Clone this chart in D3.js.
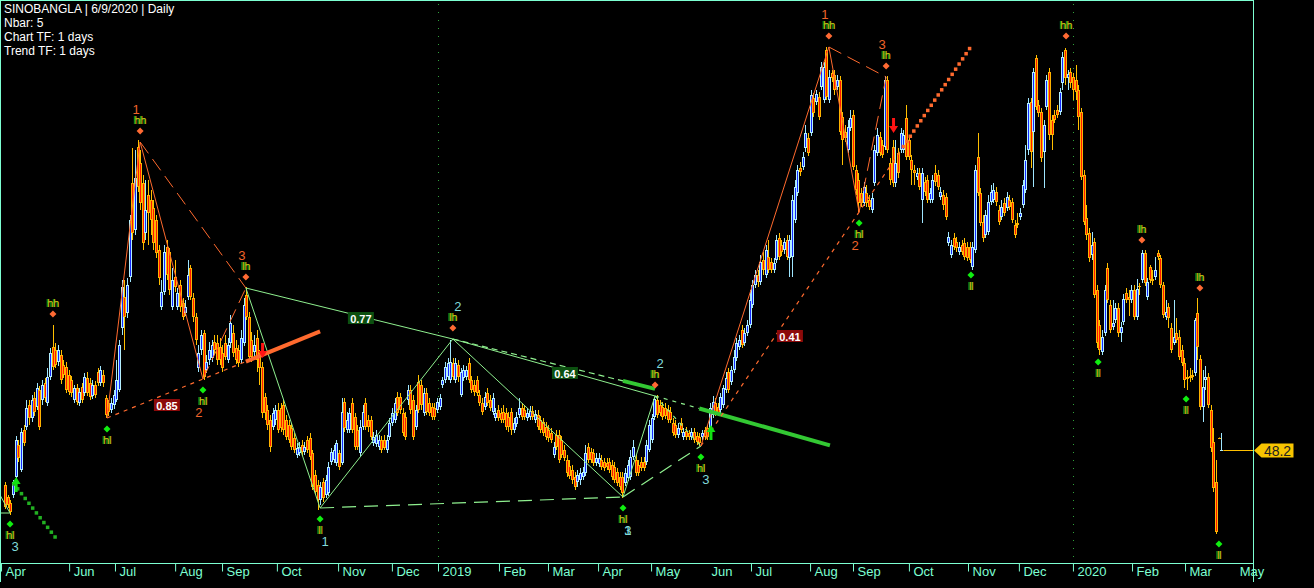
<!DOCTYPE html>
<html><head><meta charset="utf-8">
<script src="https://cdn.jsdelivr.net/npm/d3@7"></script>
<style>
html,body{margin:0;padding:0;background:#000;overflow:hidden;}
svg{display:block;}
</style></head><body>
<svg id="chart" width="1314" height="588"></svg>
<script>
// ---------- DATA ----------
const infoLines = ['SINOBANGLA | 6/9/2020 | Daily', 'Nbar: 5', 'Chart TF: 1 days', 'Trend TF: 1 days'];

// daily candles [open, high, low, close]
const candles = [
[44.7,45.0,42.3,42.5],[43.5,43.7,42.4,42.7],[42.9,43.2,41.7,42.0],[43.7,45.2,43.4,45.0],[45.5,49.6,45.2,49.2],[48.7,49.2,47.0,47.4],[46.2,50.4,46.0,50.0],[50.2,50.7,48.6,48.9],[50.5,53.2,50.2,52.4],[52.7,53.2,50.7,51.4],
[51.4,53.7,51.0,53.2],[53.4,54.0,51.6,52.0],[52.5,54.9,52.2,54.4],[54.2,54.6,50.2,50.5],[53.2,55.2,52.7,54.7],[54.9,55.4,53.0,53.4],[52.9,56.4,52.6,55.5],[55.5,58.4,55.2,57.9],[58.5,60.7,56.2,56.5],[58.2,58.9,56.4,56.7],
[57.0,58.7,56.6,58.2],[57.7,58.2,54.8,55.2],[56.7,57.2,55.4,55.7],[56.5,57.0,53.9,54.2],[55.7,56.2,53.7,54.0],[55.2,55.6,53.5,53.9],[53.2,54.7,52.9,54.4],[54.4,54.8,52.7,53.0],[52.9,54.4,52.6,54.0],[54.5,54.9,52.9,53.2],
[53.9,55.9,53.6,55.5],[55.4,56.0,53.6,53.9],[54.9,55.4,53.2,53.5],[53.6,55.2,53.3,54.7],[54.7,55.1,53.4,53.7],[56.0,56.4,54.6,54.9],[54.9,56.6,54.6,56.2],[55.7,56.2,54.5,54.9],[53.4,53.7,51.4,51.7],[52.9,53.2,51.6,52.0],
[52.2,53.4,51.9,52.9],[52.7,54.2,52.3,53.7],[53.2,57.2,53.0,55.2],[54.2,59.2,54.0,58.7],[60.4,65.2,59.7,64.5],[63.5,65.2,58.2,61.5],[61.9,65.4,61.4,64.7],[65.5,71.7,65.0,71.2],[74.9,78.4,69.2,69.9],[70.2,78.2,69.7,75.4],
[78.5,79.2,74.0,74.5],[76.9,78.2,72.2,72.9],[74.9,75.7,68.2,68.9],[69.9,75.2,69.2,72.2],[73.7,75.2,68.7,71.9],[73.2,74.2,69.7,71.2],[72.4,73.2,68.2,68.9],[71.2,71.7,67.4,67.9],[68.2,68.7,64.7,65.4],[62.5,65.2,62.2,64.0],
[64.0,68.7,63.7,68.0],[68.5,69.2,65.2,65.7],[68.0,68.4,63.7,64.2],[62.5,66.4,62.2,65.2],[65.5,67.2,64.0,64.5],[62.5,64.4,62.2,63.9],[64.7,65.2,62.0,62.5],[62.9,63.4,61.2,61.5],[61.9,63.2,61.6,62.5],[63.5,67.2,63.2,65.7],
[66.4,66.7,63.2,63.5],[63.4,63.9,61.0,61.5],[61.5,61.9,58.7,59.2],[56.4,58.7,56.0,57.9],[58.2,60.2,57.7,59.7],[59.9,60.2,55.2,55.5],[56.2,57.7,55.9,57.0],[57.2,59.0,56.7,58.2],[57.4,59.2,57.0,58.7],[59.0,59.7,57.7,58.2],
[58.9,59.7,56.7,57.2],[58.5,59.4,56.7,57.2],[57.9,58.7,56.0,56.4],[58.9,59.7,57.2,57.5],[57.2,59.4,56.9,58.7],[58.9,61.7,58.4,60.9],[59.9,60.7,57.5,57.9],[58.4,59.2,56.8,57.2],[58.2,58.7,56.5,56.9],[57.2,60.2,56.9,59.4],
[58.9,63.4,58.6,62.7],[63.7,64.5,61.2,61.5],[61.5,62.0,57.0,57.5],[59.2,60.0,57.0,57.5],[58.0,59.7,57.4,58.7],[59.4,60.2,56.0,57.2],[57.7,58.2,54.7,56.4],[56.5,57.0,51.4,51.9],[53.5,53.9,51.2,51.9],[52.2,52.7,50.2,50.7],
[51.2,51.7,48.0,48.5],[50.5,52.4,50.2,51.9],[51.2,52.7,50.7,52.2],[52.2,52.9,49.9,50.2],[52.4,52.9,50.0,50.4],[52.7,53.2,49.7,50.2],[51.2,51.7,49.2,49.5],[50.7,51.2,48.9,49.2],[50.4,50.9,48.2,48.5],[49.4,49.9,47.9,48.2],
[47.7,48.9,47.4,48.4],[47.9,49.0,47.6,48.5],[48.7,49.2,47.6,48.0],[48.0,49.0,47.7,48.5],[49.2,49.6,47.9,48.2],[49.4,49.9,47.2,47.5],[47.9,48.2,44.2,44.5],[45.7,46.2,43.7,44.0],[44.7,45.2,42.2,43.2],[43.2,45.0,42.7,44.5],
[45.0,45.4,43.0,43.4],[43.7,45.7,43.4,45.2],[43.9,47.0,43.6,46.5],[47.0,48.4,46.7,48.0],[47.2,48.7,46.9,48.2],[46.9,49.2,46.6,48.9],[47.9,48.2,46.2,46.5],[46.9,53.4,46.7,52.0],[53.0,53.4,50.0,50.4],[50.2,52.0,49.9,51.2],
[50.2,52.4,49.9,51.9],[52.9,53.4,49.9,50.2],[51.5,51.9,48.2,48.5],[50.2,50.7,48.2,48.5],[47.9,51.2,47.6,50.5],[50.5,52.7,50.2,52.0],[52.9,53.4,50.2,50.5],[51.2,51.7,50.0,50.5],[51.2,51.6,49.2,49.5],[48.9,50.0,48.6,49.5],
[48.8,50.2,48.5,49.7],[48.5,49.7,48.2,49.2],[49.2,49.6,47.9,48.2],[49.2,49.7,48.2,48.4],[48.2,49.7,47.9,49.2],[49.5,51.4,49.2,50.9],[50.9,52.4,50.6,51.9],[51.2,53.4,50.9,52.9],[53.5,54.0,51.6,51.9],[53.5,53.9,51.8,52.2],
[51.9,52.4,49.6,49.9],[51.5,52.0,49.2,49.5],[53.2,54.7,52.7,54.2],[54.2,54.7,51.8,52.2],[53.2,53.7,49.2,49.5],[50.5,52.7,50.2,52.2],[55.0,55.7,51.9,52.2],[54.7,55.2,52.2,52.7],[51.9,54.4,51.6,53.9],[53.9,54.4,51.7,52.0],
[52.9,53.4,51.6,51.9],[52.5,52.9,51.2,51.5],[52.4,52.9,51.2,51.5],[52.2,53.4,51.9,53.0],[52.5,53.8,52.2,53.4],[54.7,55.5,54.4,55.2],[55.2,57.0,54.9,56.5],[55.5,57.4,55.2,56.9],[55.2,59.2,54.9,57.0],[56.9,57.4,55.2,55.5],
[55.2,57.4,54.9,56.9],[56.7,57.2,55.0,55.5],[53.7,56.4,53.5,56.0],[55.4,56.7,55.1,56.2],[55.5,56.6,55.2,56.2],[56.9,57.4,54.9,55.2],[55.2,55.6,53.9,54.2],[54.7,55.2,53.6,54.0],[55.2,55.6,53.6,53.9],[53.7,54.2,52.6,52.9],
[52.9,53.4,51.7,52.0],[52.5,54.0,52.2,53.5],[53.9,54.4,52.6,52.9],[53.2,53.7,52.1,52.4],[52.0,53.9,51.7,53.4],[51.4,52.4,51.1,51.9],[52.2,52.7,51.1,51.4],[51.9,52.4,50.9,51.2],[52.0,52.7,50.9,51.2],[51.9,52.4,50.2,50.5],
[51.5,52.0,50.0,50.5],[52.0,52.4,49.7,50.2],[50.2,51.4,49.9,50.9],[50.8,52.0,50.5,51.5],[51.7,53.4,51.4,52.4],[52.4,52.9,51.2,51.5],[52.2,52.7,51.2,51.5],[51.4,52.4,51.1,51.9],[51.5,52.6,51.2,52.1],[52.1,52.6,51.2,51.5],
[51.2,52.2,50.9,51.8],[51.7,52.2,50.2,50.5],[51.2,51.6,49.9,50.2],[51.0,51.4,49.6,49.9],[50.5,51.0,49.2,49.5],[50.2,50.7,49.0,49.4],[49.9,50.4,48.9,49.2],[47.7,49.0,47.4,48.5],[49.7,50.2,48.2,48.5],[49.7,50.2,46.9,47.2],
[49.2,49.6,47.4,47.7],[48.2,48.7,47.1,47.4],[47.2,47.7,45.5,45.9],[46.6,47.2,45.3,45.6],[46.2,46.7,44.8,45.2],[45.5,46.0,44.2,44.5],[45.0,46.2,44.5,45.7],[45.2,46.4,44.7,45.9],[45.5,46.5,45.2,46.0],[45.9,48.7,45.6,47.9],
[48.5,48.9,46.9,47.2],[48.0,48.4,46.9,47.2],[47.9,48.3,46.6,46.9],[46.9,47.9,46.6,47.4],[46.8,47.9,46.5,47.4],[47.2,47.7,46.2,46.5],[47.0,47.4,46.1,46.4],[46.9,47.4,46.2,46.5],[47.0,47.4,45.9,46.2],[46.7,47.2,45.2,45.5],
[46.5,47.0,44.9,45.2],[46.0,46.4,44.6,44.9],[45.5,46.0,44.2,44.5],[45.5,46.0,43.4,43.9],[44.9,46.4,44.6,45.9],[45.4,47.2,45.1,46.7],[45.5,48.2,45.2,47.5],[47.5,49.2,47.2,48.5],[47.2,47.7,45.6,45.9],[46.7,47.2,45.6,45.9],
[47.0,47.5,46.1,46.4],[47.0,47.5,46.1,46.4],[47.0,49.2,46.7,48.7],[48.2,51.2,48.0,50.7],[49.2,51.8,48.9,51.4],[51.5,53.5,51.2,53.3],[53.2,53.7,51.4,51.7],[52.7,53.2,51.6,51.9],[52.5,53.0,51.2,51.5],[52.4,52.9,51.3,51.6],
[52.2,52.7,50.9,51.2],[52.0,52.5,50.9,51.2],[50.9,51.4,49.6,49.9],[50.7,51.2,49.4,49.7],[49.7,50.9,49.4,50.4],[50.9,51.4,49.9,50.2],[49.5,50.4,49.2,50.0],[50.1,50.5,49.2,49.5],[49.9,50.2,49.2,49.5],[49.5,50.4,49.2,50.0],
[50.0,50.4,48.9,49.2],[49.6,50.0,48.7,49.0],[49.5,49.9,48.6,48.9],[49.5,50.2,49.2,49.9],[50.2,50.5,49.2,49.5],[50.4,50.7,49.2,49.5],[50.4,52.9,50.0,52.4],[51.7,53.6,51.4,53.0],[52.9,53.4,51.6,51.9],[52.5,52.9,51.6,51.9],
[52.2,53.9,51.9,53.5],[52.7,54.7,52.4,54.4],[54.2,56.0,53.9,55.4],[56.0,56.4,53.9,54.2],[55.0,56.6,54.7,56.2],[56.2,58.2,55.9,57.5],[57.4,59.4,57.1,58.9],[58.5,59.7,58.2,59.2],[60.2,60.7,58.4,58.7],[58.9,60.4,58.6,59.9],
[59.9,61.2,59.6,60.7],[60.7,64.2,60.4,63.2],[62.7,65.2,62.4,64.7],[64.7,66.2,64.4,65.7],[65.7,66.2,64.5,65.0],[65.0,67.7,64.7,67.0],[67.2,68.0,65.7,66.2],[65.7,68.7,65.4,68.2],[67.5,69.2,65.9,66.2],[67.0,67.4,65.9,66.2],
[66.2,67.4,65.9,66.9],[67.2,69.7,66.9,69.2],[69.4,69.9,67.2,67.5],[68.7,69.2,67.6,68.0],[68.2,69.4,67.8,69.0],[69.2,69.7,67.2,67.5],[67.4,69.7,65.5,69.2],[67.5,73.7,65.5,73.2],[71.2,75.2,70.9,74.5],[73.9,76.7,73.6,76.2],
[76.4,77.0,75.6,76.0],[76.5,78.0,76.2,77.5],[78.4,80.7,78.0,79.9],[79.4,79.9,77.6,77.9],[79.9,84.2,79.6,83.7],[83.4,83.9,81.5,81.9],[83.0,84.2,82.7,83.8],[83.5,84.0,81.2,81.5],[84.5,87.0,84.2,86.5],[83.2,87.0,82.9,86.5],
[88.2,88.5,83.2,83.5],[83.2,86.2,82.9,85.5],[85.9,86.2,85.0,85.4],[85.7,86.2,83.7,84.2],[84.5,85.7,84.2,85.2],[85.2,85.6,79.7,80.0],[81.5,82.0,76.7,79.2],[80.0,80.7,79.0,79.4],[78.2,81.2,77.9,80.5],[80.4,82.2,80.1,81.4],
[81.7,82.2,76.2,76.5],[76.2,76.7,73.7,74.2],[75.2,75.9,72.0,72.9],[73.9,74.4,72.5,72.9],[72.9,75.0,72.6,74.5],[73.9,74.7,72.5,72.9],[73.2,73.7,72.2,72.5],[72.2,73.9,71.9,73.4],[74.9,78.7,74.6,78.2],[77.9,80.4,77.6,79.7],
[79.5,80.0,77.6,77.9],[78.7,79.2,77.4,77.7],[78.5,85.6,78.2,85.2],[85.2,85.6,77.9,78.2],[76.9,77.4,74.7,75.2],[78.5,79.2,74.5,74.9],[74.9,79.2,74.5,76.9],[77.9,78.4,75.4,75.9],[78.2,80.4,77.9,79.9],[78.2,80.2,77.9,79.7],
[81.4,82.7,77.2,77.5],[79.2,79.7,77.2,77.5],[77.2,77.7,74.7,76.2],[76.2,76.7,74.7,75.9],[75.5,76.4,75.2,75.9],[75.9,76.4,74.2,74.5],[73.2,76.4,70.9,75.9],[75.0,75.5,73.6,74.0],[75.2,75.7,72.9,73.2],[73.2,74.4,72.9,73.9],
[73.2,75.7,72.9,75.2],[75.9,76.7,74.6,75.0],[75.7,76.2,74.2,74.5],[73.5,74.5,73.2,74.0],[73.7,74.2,72.2,72.7],[73.5,73.9,71.2,71.5],[68.9,70.0,68.6,69.5],[67.7,69.2,67.4,68.7],[69.4,69.9,68.2,68.5],[69.0,69.5,68.0,68.4],
[68.0,69.0,67.7,68.5],[68.7,69.2,67.7,68.0],[68.9,69.4,67.2,67.5],[68.5,69.0,67.1,67.4],[68.5,69.0,66.9,67.2],[66.5,69.0,66.2,68.5],[68.2,76.7,67.9,76.2],[77.5,79.9,73.6,73.9],[73.9,74.4,70.6,70.9],[71.0,71.7,69.0,69.4],
[69.7,72.2,69.4,71.7],[70.0,73.7,69.7,73.0],[73.0,74.7,72.7,74.0],[73.2,74.9,72.9,74.2],[74.0,74.5,72.6,73.0],[72.2,72.7,70.7,71.0],[71.5,73.2,71.2,72.5],[72.9,73.4,71.6,71.9],[72.4,74.0,72.1,73.5],[73.2,73.7,72.2,72.5],
[73.0,73.4,70.9,71.2],[70.7,71.2,69.4,69.7],[70.9,71.9,70.4,70.7],[71.5,72.4,71.2,71.9],[72.7,75.2,72.4,74.7],[74.2,78.7,73.9,77.2],[78.2,83.4,77.7,82.9],[83.0,83.4,76.4,78.0],[80.0,86.4,74.5,86.0],[87.4,87.7,82.2,82.5],
[82.7,83.2,81.5,81.9],[82.0,82.4,77.0,77.4],[78.0,81.2,74.4,80.7],[82.5,85.7,82.2,85.2],[86.0,86.4,79.2,79.7],[81.2,81.7,78.2,79.7],[81.7,82.2,80.9,81.2],[82.2,82.7,81.4,81.7],[82.0,84.4,81.7,84.0],[84.9,88.0,84.2,87.5],
[88.2,88.4,84.7,85.4],[85.4,86.2,84.2,85.8],[86.0,86.4,84.4,84.9],[85.5,85.9,83.2,84.2],[85.2,86.7,83.2,84.0],[84.2,84.7,80.2,81.5],[82.0,82.4,75.2,75.5],[75.7,76.2,70.7,71.0],[71.4,72.7,69.2,69.7],[69.9,70.4,67.0,67.4],
[67.7,70.0,67.2,68.7],[69.0,69.4,63.4,63.7],[64.2,64.7,58.4,58.9],[60.7,61.2,57.7,58.2],[58.0,60.2,57.7,59.5],[59.9,64.7,59.6,64.2],[66.4,66.9,62.9,63.2],[62.7,63.2,59.9,60.2],[60.5,63.2,60.2,60.9],[61.2,62.9,60.9,62.4],
[62.4,62.9,59.5,59.9],[59.9,61.0,59.0,60.5],[61.0,63.8,60.7,63.3],[63.9,64.4,62.9,63.2],[63.5,64.2,61.6,63.2],[63.2,64.7,62.9,64.2],[64.2,64.7,61.2,61.5],[61.5,65.3,61.2,64.3],[64.6,64.9,63.7,64.5],[65.2,68.2,64.9,67.9],
[67.9,68.2,64.6,64.9],[63.5,65.4,63.2,65.0],[66.5,66.7,64.9,65.2],[65.3,66.2,64.7,65.1],[65.5,67.5,65.2,66.2],[67.9,68.2,67.2,67.5],[67.4,67.7,64.4,64.7],[64.7,65.0,61.4,61.7],[61.5,63.2,61.2,62.0],[62.5,62.9,60.4,61.4],
[60.4,60.9,57.9,58.2],[58.9,63.2,58.7,59.5],[59.9,61.4,58.9,59.2],[59.5,60.2,57.2,57.5],[58.2,58.7,56.6,56.9],[56.9,57.4,54.4,55.2],[55.5,56.2,54.2,55.3],[55.6,56.4,55.0,55.4],[55.7,56.2,55.2,55.5],[55.9,61.4,55.6,61.2],
[61.9,63.4,57.2,58.5],[57.3,57.7,52.2,52.5],[52.5,56.2,51.0,54.5],[55.2,56.6,54.2,55.5],[55.5,55.9,52.4,52.7],[52.2,52.7,48.0,48.4],[49.0,50.4,44.0,44.4],[45.0,47.2,39.8,40.0],[49.45,49.45,49.35,49.35],[48.2,49.9,48.2,48.2]
];
const lastPrice = 48.2;

// x-axis: month labels at bar positions
const tickLabels = ['Apr','Jun','Jul','Aug','Sep','Oct','Nov','Dec','2019','Feb','Mar','Apr','May','Jun','Jul','Aug','Sep','Oct','Nov','Dec','2020','Feb','Mar','May'];
const tickBars   = [-1.5,24.2,41.5,64.2,81.9,102.6,125.7,146,163.4,186.4,204.9,223.8,243.8,264.9,281.5,303.8,320,341.1,363.4,382.6,403,425.3,445.3,464.2];
const hiddenTicks = [13, 23];

// swing pivots
const pivotIds    = ['a0','hh0','hl1','hh1','hl2','lh3','ll1','lh','hl3','lh2','hl4','hh2','hl5','lh5','ll5','hh6','ll6','lh6','ll7','lh7','ll8'];
const pivotBars   = [1.9,18.1,38.5,51,74.7,90.9,118.9,169,233.2,245.3,262.6,310.9,322.3,332.5,364.5,400.4,412.5,429,445.7,450.9,458.1];
const pivotPrices = [41.9,60.7,51.4,79.0,55.3,64.4,42.4,59.3,43.5,53.6,48.6,88.5,72.0,85.5,66.8,88.5,58.1,68.1,54.4,63.3,39.9];
const pivotTags   = ['hl','hh','hl','hh','hl','lh','ll','lh','hl','lh','hl','hh','hl','lh','ll','hh','ll','lh','ll','lh','ll'];
const pivotNums   = ['3','','','1','2','3','1','2','3','2','3','1','2','3','','','','','','',''];
const pivotWave   = ['g','','','o','o','o','g','g','g','g','g','o','o','o','','','','','','',''];
const extraNums   = [['hl3','1']];

// zigzag links between pivots [from, to, kind]
const pivotLinks = [
  ['hl1','hh1','oSolid'],['hh1','hl2','oSolid'],['hl2','lh3','oDash'],['hh1','lh3','oDash'],
  ['lh3','ll1','gSolid'],['ll1','lh','gSolid'],['lh','hl3','gSolid'],['hl3','lh2','gSolid'],['lh2','hl4','gDot'],
  ['ll1','hl3','gLong'],['hl3','hl4','gLong'],
  ['hl4','hh2','oSolid'],['hh2','hl5','oSolid'],['hl5','lh5','oDash'],['hh2','lh5','oDash']
];
// trend lines through two pivots, drawn between two bar positions [a, b, fromBar, toBar, kind]
const trendRuns = [
  ['hl1','hl2',38.5,90.9,'oDot'],['hl1','hl2',90.9,118.9,'oThick'],
  ['lh3','lh',90.9,169,'gSolid'],['lh3','lh',169,233.2,'gDash'],['lh3','lh',233.2,245.3,'gThick'],
  ['lh','lh2',169,245.3,'gSolid'],['lh','lh2',245.3,262,'gDot'],['lh','lh2',262,311.3,'gThick'],
  ['hl4','hl5',262.6,339,'oDot'],['hl4','hl5',339,364,'oSquares']
];
const leadIn = [[-1.9,43.7],[1.9,41.9],[-1.9,41.9]];
const projGreen = [[3.4,44.8],[18.9,39.5]];

// ratio labels
const ratioText   = ['0.85','0.77','0.64','0.41'];
const ratioBars   = [61.1,134.3,211.3,296.2];
const ratioPrices = [52.7,61.4,55.9,59.6];
const ratioKind   = ['o','g','g','o'];

// signal arrows (tip position)
const arrowBars   = [4.2,266.4,97.2,335.3];
const arrowPrices = [45.5,50.7,57.4,79.9];
const arrowDirs   = ['up','up','down','down'];

// ---------- DRAW ----------
const AQUA = '#7dffd2', ORANGE = '#ff6a2e', LGREEN = '#8ff08f', GREEN = '#33c833';
const svg = d3.select('#chart');
const plotRight = 1253.5, axisY = 563.5;
svg.append('rect').attr('width',1314).attr('height',588).attr('fill','#000');

const x = d3.scaleLinear().domain([0, candles.length - 1]).range([5, 5 + (candles.length - 1) * 2.65]);
const y = d3.scaleLinear().domain([38.2, 93.2]).range([550, 0]);

svg.append('clipPath').attr('id','plot').append('rect').attr('x',1).attr('y',1).attr('width',plotRight-1).attr('height',axisY-1);
const plot = svg.append('g').attr('clip-path','url(#plot)');

// year separators
tickLabels.forEach((t,k)=>{
  if (/^\d{4}$/.test(t)) {
    const xx = Math.round(x(tickBars[k])) + 0.5;
    plot.append('line').attr('x1',xx).attr('x2',xx).attr('y1',4).attr('y2',axisY)
      .attr('stroke','#2fa33a').attr('stroke-dasharray','1,7');
  }
});

// candles
const cg = plot.append('g');
const cs = cg.selectAll('g').data(candles).join('g');
cs.each(function(d,i){
  const [o,h,l,c] = d;
  const up = c >= o;
  const g = d3.select(this);
  const cx = Math.round(x(i));
  g.append('line').attr('x1',cx+0.5).attr('x2',cx+0.5)
    .attr('y1',y(Math.max(h,o,c))).attr('y2',y(Math.min(l,o,c)))
    .attr('stroke', up ? '#9fe6ff' : '#ffbf00').attr('stroke-width',1);
  const top = Math.round(y(Math.max(o,c))), bot = Math.round(y(Math.min(o,c)));
  const bh = Math.max(1, bot - top);
  g.append('rect').attr('x',cx-1).attr('y',top).attr('width',3).attr('height',bh)
    .attr('fill', up ? '#b4f0ff' : '#ffb300');
  if (bh > 2) g.append('rect').attr('x',cx).attr('y',top+1).attr('width',1).attr('height',bh-2)
    .attr('fill', up ? '#1428ff' : '#ff1800');
});

// lines
const P = {};
pivotIds.forEach((id,k)=>{ P[id] = {i: pivotBars[k], p: pivotPrices[k]}; });
const styles = {
  oSolid:{c:ORANGE,w:1,d:null}, oDash:{c:ORANGE,w:1,d:'14,7'}, oDot:{c:ORANGE,w:1.2,d:'4,5'}, oThick:{c:ORANGE,w:4,d:null},
  gSolid:{c:LGREEN,w:1,d:null}, gDash:{c:LGREEN,w:1.2,d:'6,4'}, gDot:{c:LGREEN,w:1.2,d:'4,5'}, gLong:{c:LGREEN,w:1.2,d:'14,8'}, gThick:{c:GREEN,w:4,d:null}
};
const lg = plot.append('g');
function seg(i0,p0,i1,p1,kind){
  const s = styles[kind];
  lg.append('line').attr('x1',x(i0)).attr('y1',y(p0)).attr('x2',x(i1)).attr('y2',y(p1))
    .attr('stroke',s.c).attr('stroke-width',s.w).attr('stroke-dasharray',s.d);
}
function squares(i0,p0,i1,p1,color){
  const x0=x(i0), y0=y(p0), x1=x(i1), y1=y(p1);
  const L = Math.hypot(x1-x0,y1-y0), n = Math.floor(L/6);
  d3.range(n+1).forEach(k=>{
    const t = k/n;
    lg.append('rect').attr('x',x0+(x1-x0)*t-1.75).attr('y',y0+(y1-y0)*t-1.75)
      .attr('width',3.5).attr('height',3.5).attr('fill',color);
  });
}
pivotLinks.forEach(([a,b,kind])=> seg(P[a].i,P[a].p,P[b].i,P[b].p,kind));
trendRuns.forEach(([a,b,f,t,kind])=>{
  const A=P[a], B=P[b];
  const at = i => A.p + (B.p-A.p)*(i-A.i)/(B.i-A.i);
  if (kind === 'oSquares') squares(f,at(f),t,at(t),ORANGE);
  else seg(f,at(f),t,at(t),kind);
});
lg.append('path').attr('d', d3.line().x(d=>x(d[0])).y(d=>y(d[1]))(leadIn)).attr('fill','none').attr('stroke',LGREEN);
squares(projGreen[0][0],projGreen[0][1],projGreen[1][0],projGreen[1][1],'#22b022');

// ratio labels
ratioText.forEach((t,k)=>{
  const cx = x(ratioBars[k]), cy = y(ratioPrices[k]);
  plot.append('rect').attr('x',cx-13).attr('y',cy-6).attr('width',26).attr('height',12)
    .attr('fill', ratioKind[k]==='o' ? '#8c0a0a' : '#0c5010');
  plot.append('text').attr('x',cx).attr('y',cy+0.5).attr('text-anchor','middle').attr('dominant-baseline','central')
    .attr('fill','#fff').attr('font-family','Liberation Sans, Arial, sans-serif').attr('font-weight','bold').attr('font-size',11).text(t);
});

// arrows
arrowDirs.forEach((dir,k)=>{
  const cx = x(arrowBars[k]), cy = y(arrowPrices[k]);
  const s = dir==='up' ? 1 : -1;
  const d = `M0,0L4.5,${7*s}L1.5,${7*s}L1.5,${15*s}L-1.5,${15*s}L-1.5,${7*s}L-4.5,${7*s}Z`;
  plot.append('path').attr('d',d).attr('transform',`translate(${cx},${cy})`).attr('fill', dir==='up' ? '#12e012' : '#ff1414');
});

// pivot markers
const mg = svg.append('g').attr('font-family','Liberation Sans, Arial, sans-serif');
pivotIds.forEach((id,k)=>{
  const isHigh = pivotTags[k][1] === 'h';
  const s = isHigh ? -1 : 1;
  const px = x(pivotBars[k]), py = y(pivotPrices[k]);
  mg.append('path').attr('d','M0,-3.5L3.5,0L0,3.5L-3.5,0Z').attr('transform',`translate(${px},${py+s*11})`)
    .attr('fill', isHigh ? '#ff6a33' : '#10ee10');
  mg.append('text').attr('x',px-0.8).attr('y',py+s*22).attr('text-anchor','middle').attr('dominant-baseline','central')
    .attr('font-size',11).attr('fill','#1ea81e').text(pivotTags[k]);
  mg.append('text').attr('x',px+0.4).attr('y',py+s*22).attr('text-anchor','middle').attr('dominant-baseline','central')
    .attr('font-size',11).attr('fill','#d6c414').text(pivotTags[k]);
  if (pivotNums[k]) {
    const orange = pivotWave[k]==='o';
    mg.append('text').attr('x',px+(orange?-4:5)).attr('y',py+s*33).attr('text-anchor','middle').attr('dominant-baseline','central')
      .attr('font-size',13).attr('fill', orange ? '#f0642a' : '#80dada').text(pivotNums[k]);
  }
});
extraNums.forEach(([id,t])=>{
  const k = pivotIds.indexOf(id);
  const px = x(pivotBars[k]), py = y(pivotPrices[k]);
  mg.append('text').attr('x',px+5).attr('y',py+33).attr('text-anchor','middle').attr('dominant-baseline','central')
    .attr('font-size',13).attr('fill','#80dada').text(t);
});

// last price line and tag
const ly = Math.round(y(lastPrice)) + 0.5;
svg.append('line').attr('x1',x(candles.length-1)+2).attr('x2',plotRight).attr('y1',ly).attr('y2',ly).attr('stroke','#ffc000');
svg.append('path').attr('d',`M${plotRight+0.5},${ly}L${plotRight+8},${ly-7}L${plotRight+40},${ly-7}L${plotRight+40},${ly+7}L${plotRight+8},${ly+7}Z`).attr('fill','#f8c400');
svg.append('text').attr('x',plotRight+24).attr('y',ly+0.5).attr('text-anchor','middle').attr('dominant-baseline','central')
  .attr('font-family','Liberation Sans, Arial, sans-serif').attr('font-size',14).attr('fill','#222').text(lastPrice.toFixed(1));

// borders
const bg = svg.append('g').attr('stroke',AQUA).attr('stroke-width',1);
bg.append('line').attr('x1',0.5).attr('x2',0.5).attr('y1',0).attr('y2',582);
bg.append('line').attr('x1',0).attr('x2',plotRight).attr('y1',0.5).attr('y2',0.5);
bg.append('line').attr('x1',plotRight).attr('x2',plotRight).attr('y1',0).attr('y2',582);
bg.append('line').attr('x1',0).attr('x2',plotRight).attr('y1',axisY).attr('y2',axisY);

// x axis
const axisG = svg.append('g').attr('transform',`translate(0,${axisY})`)
  .call(d3.axisBottom(x).tickValues(tickBars).tickFormat((d,k)=>tickLabels[k]).tickSize(8).tickSizeOuter(0));
axisG.select('.domain').remove();
axisG.attr('font-family','Liberation Sans Narrow, Arial Narrow, Liberation Sans, sans-serif').attr('font-size',13);
axisG.selectAll('.tick line').attr('stroke',AQUA).attr('opacity',(d,k)=>hiddenTicks.includes(k)?0:1);
axisG.selectAll('.tick text').attr('x',4).attr('y',3).attr('dy','0.71em').attr('text-anchor','start').attr('fill',AQUA);

// info text
svg.append('g').selectAll('text').data(infoLines).join('text')
  .attr('x',4).attr('y',(d,k)=>13+k*14).attr('fill','#fff')
  .attr('font-family','Liberation Sans, Arial, sans-serif').attr('font-size',12).text(d=>d);
</script>
</body></html>
